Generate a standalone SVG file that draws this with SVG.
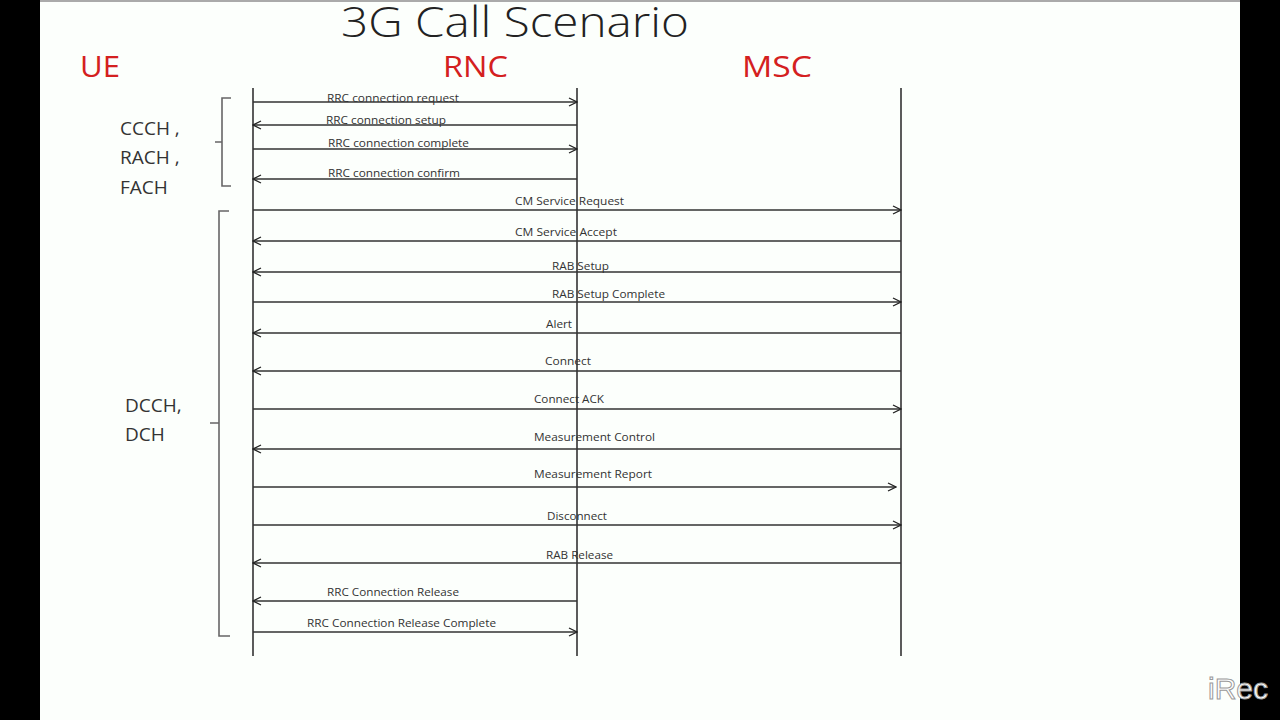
<svg xmlns="http://www.w3.org/2000/svg" width="1280" height="720" viewBox="0 0 1280 720">
<defs>
<marker id="ah" markerWidth="10" markerHeight="10" refX="9" refY="5" orient="auto" markerUnits="userSpaceOnUse">
<path d="M1,1 L9,5 L1,9" fill="none" stroke="#222" stroke-width="1.3"/>
</marker>
<style>
.life{stroke:#333;stroke-width:1.6}
.msg{stroke:#333;stroke-width:1.3;fill:none;marker-end:url(#ah)}
.ml{font-family:"Open Sans","Liberation Sans",sans-serif;font-size:11px;fill:#333}
.hd{font-family:"Open Sans","Liberation Sans",sans-serif;font-size:29px;fill:#d42020}
.ch{font-family:"Open Sans","Liberation Sans",sans-serif;font-size:19px;fill:#333}
.br{stroke:#666;stroke-width:1.6;fill:none}
</style>
</defs>
<rect x="0" y="0" width="1280" height="720" fill="#000"/>
<rect x="40" y="0" width="1200" height="720" fill="#fcfffc"/>
<rect x="40" y="0" width="1200" height="2" fill="#aaa"/>
<text transform="translate(515,37) scale(1,1.1)" x="0" y="0" text-anchor="middle" font-family="Open Sans,Liberation Sans,sans-serif" font-weight="300" font-size="39" fill="#222" textLength="348" lengthAdjust="spacingAndGlyphs">3G Call Scenario</text>
<g id="ue"><text class="hd" x="80" y="77" textLength="40" lengthAdjust="spacingAndGlyphs">UE</text><line class="life" x1="253" y1="88" x2="253" y2="656"/></g>
<g id="rnc"><text class="hd" x="443" y="77" textLength="65" lengthAdjust="spacingAndGlyphs">RNC</text><line class="life" x1="577" y1="88" x2="577" y2="656"/></g>
<g id="msc"><text class="hd" x="742" y="77" textLength="70" lengthAdjust="spacingAndGlyphs">MSC</text><line class="life" x1="901" y1="88" x2="901" y2="656"/></g>
<g id="ch1">
<path class="br" d="M231,98 L222,98 L222,186 L231,186 M215,142 L222,142"/>
<text class="ch" x="120" y="135">CCCH ,</text>
<text class="ch" x="120" y="164">RACH ,</text>
<text class="ch" x="120" y="194">FACH</text>
</g>
<g id="ch2">
<path class="br" d="M229,211 L219,211 L219,636 L230,636 M210,423 L219,423"/>
<text class="ch" x="125" y="412">DCCH,</text>
<text class="ch" x="125" y="441">DCH</text>
</g>
<g id="connectors">
<line class="msg" x1="253" y1="102" x2="577" y2="102"/>
<line class="msg" x1="577" y1="125" x2="253" y2="125"/>
<line class="msg" x1="253" y1="149" x2="577" y2="149"/>
<line class="msg" x1="577" y1="179" x2="253" y2="179"/>
<line class="msg" x1="253" y1="210" x2="901" y2="210"/>
<line class="msg" x1="901" y1="241" x2="253" y2="241"/>
<line class="msg" x1="901" y1="272" x2="253" y2="272"/>
<line class="msg" x1="253" y1="302" x2="901" y2="302"/>
<line class="msg" x1="901" y1="333" x2="253" y2="333"/>
<line class="msg" x1="901" y1="371" x2="253" y2="371"/>
<line class="msg" x1="253" y1="409" x2="901" y2="409"/>
<line class="msg" x1="901" y1="449" x2="253" y2="449"/>
<line class="msg" x1="253" y1="487" x2="896" y2="487"/>
<line class="msg" x1="253" y1="525" x2="901" y2="525"/>
<line class="msg" x1="901" y1="563" x2="253" y2="563"/>
<line class="msg" x1="577" y1="601" x2="253" y2="601"/>
<line class="msg" x1="253" y1="632" x2="577" y2="632"/>
</g>
<g id="labels">
<text class="ml" x="327" y="102" textLength="132" lengthAdjust="spacingAndGlyphs">RRC connection request</text>
<text class="ml" x="326" y="124" textLength="120" lengthAdjust="spacingAndGlyphs">RRC connection setup</text>
<text class="ml" x="328" y="147" textLength="141" lengthAdjust="spacingAndGlyphs">RRC connection complete</text>
<text class="ml" x="328" y="177" textLength="132" lengthAdjust="spacingAndGlyphs">RRC connection confirm</text>
<text class="ml" x="515" y="205" textLength="109" lengthAdjust="spacingAndGlyphs">CM Service Request</text>
<text class="ml" x="515" y="236" textLength="102" lengthAdjust="spacingAndGlyphs">CM Service Accept</text>
<text class="ml" x="552" y="270" textLength="57" lengthAdjust="spacingAndGlyphs">RAB Setup</text>
<text class="ml" x="552" y="298" textLength="113" lengthAdjust="spacingAndGlyphs">RAB Setup Complete</text>
<text class="ml" x="546" y="328" textLength="26" lengthAdjust="spacingAndGlyphs">Alert</text>
<text class="ml" x="545" y="365" textLength="46" lengthAdjust="spacingAndGlyphs">Connect</text>
<text class="ml" x="534" y="403" textLength="70" lengthAdjust="spacingAndGlyphs">Connect ACK</text>
<text class="ml" x="534" y="441" textLength="121" lengthAdjust="spacingAndGlyphs">Measurement Control</text>
<text class="ml" x="534" y="478" textLength="118" lengthAdjust="spacingAndGlyphs">Measurement Report</text>
<text class="ml" x="547" y="520" textLength="60" lengthAdjust="spacingAndGlyphs">Disconnect</text>
<text class="ml" x="546" y="559" textLength="67" lengthAdjust="spacingAndGlyphs">RAB Release</text>
<text class="ml" x="327" y="596" textLength="132" lengthAdjust="spacingAndGlyphs">RRC Connection Release</text>
<text class="ml" x="307" y="627" textLength="189" lengthAdjust="spacingAndGlyphs">RRC Connection Release Complete</text>
</g>
<text x="1208" y="699" font-family="Liberation Sans,sans-serif" font-size="30" fill="#fff" stroke="#999" stroke-width="1">iRec</text>
</svg>
